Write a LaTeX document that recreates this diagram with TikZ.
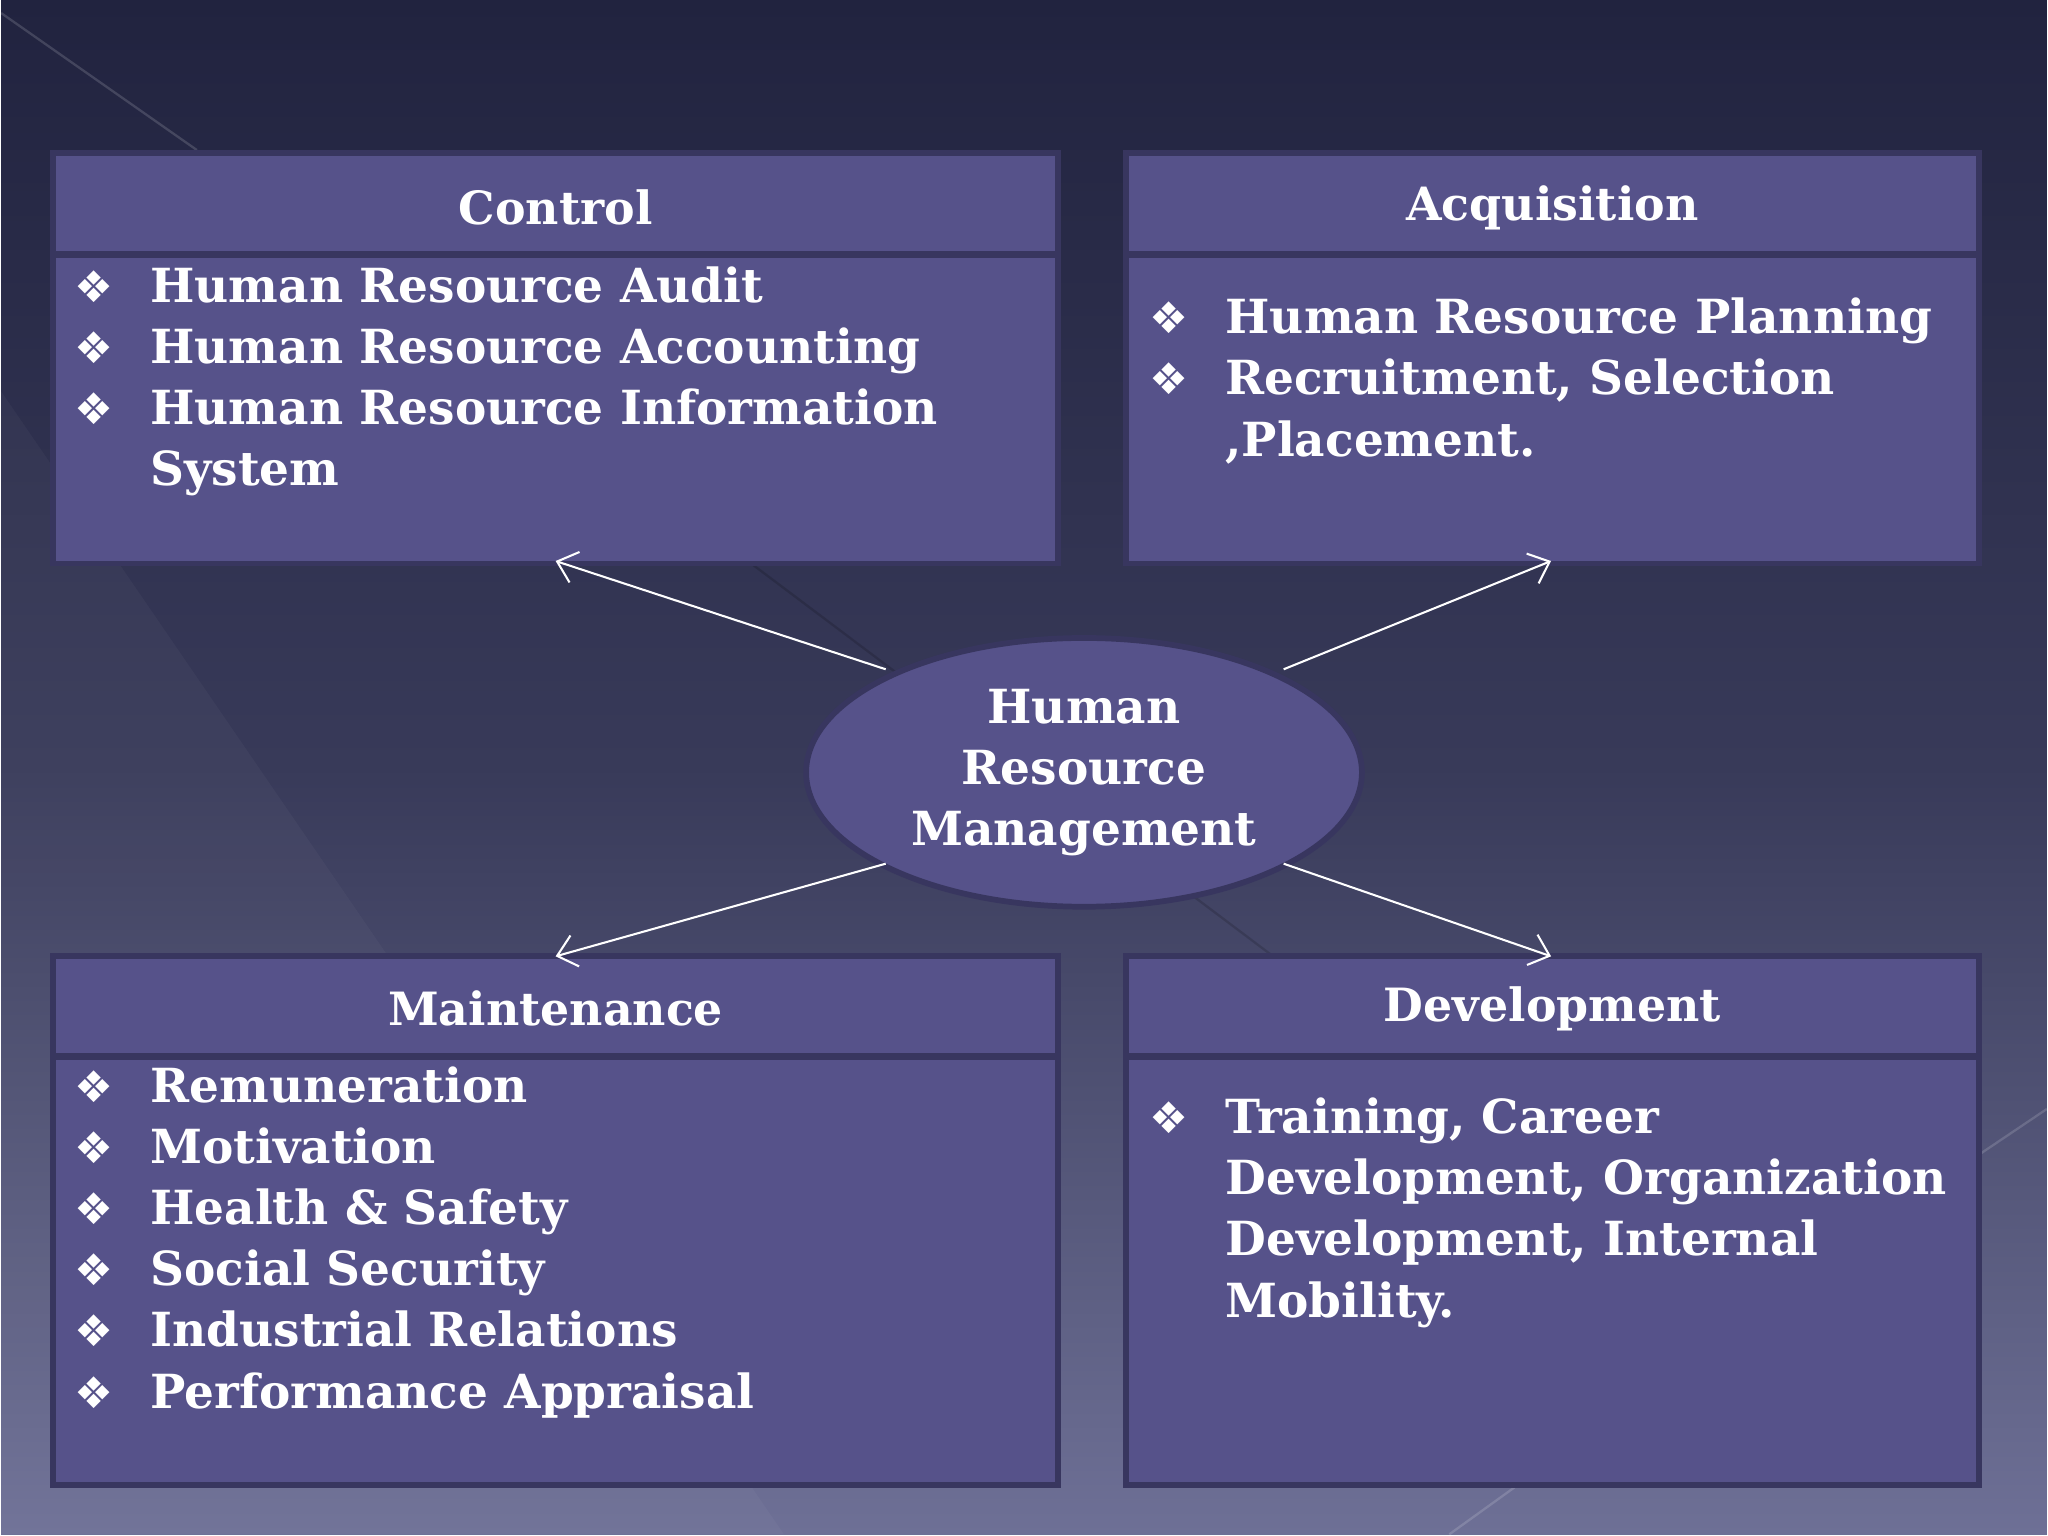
\documentclass[tikz,border=0pt]{standalone}
\usepackage{fontspec}
\setmainfont{DejaVu Serif}
\newfontfamily\symf{DejaVu Sans}
\usetikzlibrary{shapes.geometric,arrows.meta,shadows}
\definecolor{bgtop}{HTML}{21233F}
\definecolor{bgbot}{HTML}{6E7096}
\definecolor{boxfill}{HTML}{56528A}
\definecolor{boxline}{HTML}{38365F}
\tikzset{
  box/.style={draw=boxline,line width=2.5pt,fill=boxfill},
  head/.style={font=\bfseries\fontsize{20}{23}\selectfont,text=white},
  body/.style={font=\bfseries\fontsize{20.5}{26.7}\selectfont,text=white,anchor=north west,align=left,inner sep=0pt},
  conn/.style={draw=white,line width=0.9pt,-{Straight Barb[length=8pt,width=14pt]}}
}
\newcommand{\bul}{{\symf\fontsize{19}{19}\selectfont ❖}}
\begin{document}
\begin{tikzpicture}[x=0.02cm,y=-0.02cm]
\shade[top color=bgtop,bottom color=bgbot,middle color=bgtop!70!bgbot] (0,0) rectangle (1568,1176);
\fill[white,opacity=0.03] (0,0) -- (0,1176) -- (600,1176) -- (0,300) -- cycle;
\draw[white,opacity=0.15,line width=1pt] (0,10) -- (150,115);
\draw[black,opacity=0.15,line width=1pt] (575,432) -- (975,733);
\draw[white,opacity=0.15,line width=1pt] (1516,885) -- (1568,850);
\draw[white,opacity=0.15,line width=1pt] (1110,1176) -- (1160,1140);
\useasboundingbox (0,0) rectangle (1568,1176);
% boxes
\draw[box] (40,117) rectangle (810,432);
\draw[boxline,line width=3pt] (40,195) -- (810,195);
\node[head] (ch) at (425,159) {Control};
\draw[box] (862,117) rectangle (1516,432);
\draw[boxline,line width=3pt] (862,195) -- (1516,195);
\node[head] (ah) at (1189,159) {Acquisition};
\draw[box] (40,733) rectangle (810,1138);
\draw[boxline,line width=3pt] (40,810) -- (810,810);
\node[head] (mh) at (425,773) {Maintenance};
\draw[box] (862,733) rectangle (1516,1138);
\draw[boxline,line width=3pt] (862,810) -- (1516,810);
\node[head] (dh) at (1189,773) {Development};
% bodies
\node[body] (cb) at (56,204) {\bul\hspace{16pt}Human Resource Audit\\ \bul\hspace{16pt}Human Resource Accounting\\ \bul\hspace{16pt}Human Resource Information\\ \phantom{\bul}\hspace{16pt}System};
\node[body] (ab) at (880,228) {\bul\hspace{16pt}Human Resource Planning\\ \bul\hspace{16pt}Recruitment, Selection\\ \phantom{\bul}\hspace{16pt},Placement.};
\node[body] (mb) at (56,817) {\bul\hspace{16pt}Remuneration\\ \bul\hspace{16pt}Motivation\\ \bul\hspace{16pt}Health \& Safety\\ \bul\hspace{16pt}Social Security\\ \bul\hspace{16pt}Industrial Relations\\ \bul\hspace{16pt}Performance Appraisal};
\node[body] (db) at (880,841) {\bul\hspace{16pt}Training, Career\\ \phantom{\bul}\hspace{16pt}Development, Organization\\ \phantom{\bul}\hspace{16pt}Development, Internal\\ \phantom{\bul}\hspace{16pt}Mobility.};
% centre
\node[ellipse,draw=boxline,line width=2.5pt,fill=boxfill,minimum width=426*0.02cm,minimum height=206*0.02cm,font=\bfseries\fontsize{20.5}{26.7}\selectfont,text=white,align=center] (hrm) at (830,592) {Human\\Resource\\Management};
\coordinate (c1) at (678,513); \coordinate (t1) at (425,430);
\coordinate (c2) at (983,513); \coordinate (t2) at (1188,430);
\coordinate (c3) at (678,662); \coordinate (t3) at (425,733);
\coordinate (c4) at (983,662); \coordinate (t4) at (1188,733);
\draw[conn] (c1) -- (t1);
\draw[conn] (c2) -- (t2);
\draw[conn] (c3) -- (t3);
\draw[conn] (c4) -- (t4);
\end{tikzpicture}
\end{document}
